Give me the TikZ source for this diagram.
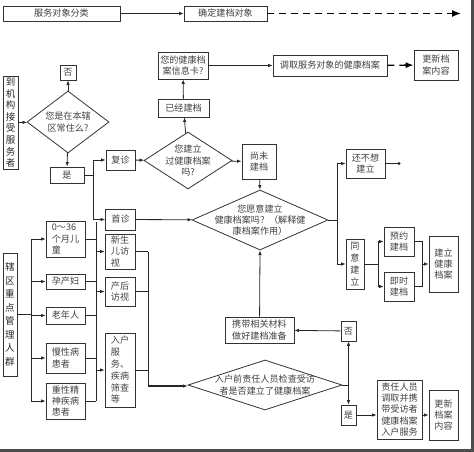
\documentclass[tikz,border=0pt]{standalone}
\usepackage{fontspec}
\setmainfont{Noto Sans CJK SC}
\usetikzlibrary{shapes.geometric,arrows.meta}
\begin{document}
\begin{tikzpicture}[x=1pt,y=-1pt,
  every node/.style={font=\fontsize{9.1}{11.4}\selectfont, text=black!75},
  bx/.style={draw=black!80, line width=0.8pt, inner sep=0pt, align=center},
  dia/.style={draw=black!80, line width=0.8pt, diamond, inner sep=0pt},
  lbl/.style={inner sep=0pt, align=center},
  ln/.style={draw=black!85, line width=0.8pt},
  ar/.style={ln, -{Latex[length=4.5pt,width=3.5pt]}},
  dar/.style={draw=black, line width=1.3pt, dash pattern=on 7pt off 5pt, -{Latex[length=9pt,width=7pt]}},
  vt/.style={font=\fontsize{9.5}{11.6}\selectfont, text=black!85},
]
\useasboundingbox (0,0) rectangle (474,452);
\draw[gray!60!black, line width=2.5pt] (472.5,0) -- (472.5,450.5) -- (0,450.5);

% top row
\node[bx, minimum width=117, minimum height=15] (cls) at (61.5,13.5) {服务对象分类};
\node[bx, minimum width=83, minimum height=15] (det) at (225.5,13.5) {确定建档对象};
\coordinate (topend) at (461,13.5);
\draw[ar] (cls) -- (det);
\draw[dar] (det) -- (topend);

% upper-left decision
\node[bx, vt, minimum width=15, minimum height=93] (dao) at (10.5,122.5) {到\\机\\构\\接\\受\\服\\务\\者};
\node[dia, minimum width=82, minimum height=62] (d1) at (68,122) {};
\node[lbl] (d1t) at (d1.center) {您是在本辖\\区常住么?};
\node[bx, minimum width=16, minimum height=15] (fou1) at (68,72.5) {否};
\node[bx, minimum width=34, minimum height=16] (shi1) at (67,175) {是};
\draw[ar] (dao) -- (d1);
\draw[ar] (d1) -- (fou1);
\draw[ar] (d1) -- (shi1);

\node[bx, minimum width=29, minimum height=20] (fuzhen) at (120.5,160) {复诊};
\node[bx, minimum width=30, minimum height=21] (shouzhen) at (120.5,219.5) {首诊};
\coordinate (j1) at (93,160);
\coordinate (j2) at (93,219.5);
\draw[ln] (shi1.east) -- (shi1.east -| j1);
\draw[ln] (j1) -- (j2);
\draw[ar] (j1) -- (fuzhen);
\draw[ar] (j2) -- (shouzhen);

% have record?
\node[dia, minimum width=88, minimum height=57] (d2) at (188,160.5) {};
\node[lbl] (d2t) at (d2.center) {您建立\\过健康档案\\吗?};
\node[bx, minimum width=51, minimum height=18] (yijing) at (183.5,108) {已经建档};
\node[bx, minimum width=50, minimum height=27] (xinxi) at (183,65.5) {您的健康档\\案信息卡?};
\node[bx, minimum width=114, minimum height=21] (diaoqu) at (330,65.5) {调取服务对象的健康档案};
\node[bx, minimum width=44, minimum height=30] (geng1) at (436,65) {更新档\\案内容};
\draw[ar] (fuzhen) -- (d2);
\draw[ar] (d2) -- (yijing);
\draw[ar] (yijing) -- (xinxi);
\draw[ar] (xinxi) -- (diaoqu);
\draw[draw=black, line width=1.3pt, dash pattern=on 7pt off 5pt, -{Latex[length=8pt,width=6pt]}] (diaoqu) -- (geng1);

\node[bx, minimum width=34, minimum height=35] (shangwei) at (259,161.5) {尚未\\建档};
\draw[ar] (d2) -- (shangwei);

% willing?
\node[dia, minimum width=136, minimum height=60] (d3) at (260,220) {};
\node[lbl] (d3t) at (d3.center) {您愿意建立\\健康档案吗？（解释健\\康档案作用）};
\draw[ar] (shangwei) -- (d3.north);
\draw[ar] (shouzhen) -- (d3);

\coordinate (j3) at (337,220);
\node[bx, minimum width=39, minimum height=29] (huanbu) at (365.5,163.5) {还不想\\建立};
\node[bx, minimum width=18, minimum height=50, font=\fontsize{9.1}{12}\selectfont] (tongyi) at (355,264) {同\\意\\建\\立};
\coordinate (j3a) at (337,163.5);
\coordinate (j3b) at (337,264);
\draw[ln] (d3.east) -- (j3);
\draw[ln] (j3a) -- (j3b);
\draw[ar] (j3a) -- (huanbu);
\draw[ar] (j3b) -- (tongyi);
\coordinate (dot) at (399,163.5);
\draw[ln] (huanbu) -- (dot);
\fill[black!85] (dot) circle (1.6);

\node[bx, minimum width=30, minimum height=29] (yuyue) at (399,241.5) {预约\\建档};
\node[bx, minimum width=30, minimum height=29] (jishi) at (399,286.5) {即时\\建档};
\node[bx, minimum width=29, minimum height=56] (jianli) at (443.5,264) {建立\\健康\\档案};
\coordinate (j4) at (378,264);
\coordinate (j4a) at (378,241.5);
\coordinate (j4b) at (378,286.5);
\draw[ln] (tongyi) -- (j4);
\draw[ln] (j4a) -- (j4b);
\draw[ar] (j4a) -- (yuyue);
\draw[ar] (j4b) -- (jishi);
\coordinate (j5a) at (422,241.5);
\coordinate (j5b) at (422,286.5);
\coordinate (j5) at (422,264);
\draw[ln] (yuyue) -- (j5a) -- (j5b) -- (jishi);
\draw[ar] (j5) -- (jianli);

% lower-left groups
\node[bx, vt, minimum width=14, minimum height=123, font=\fontsize{9.5}{13.5}\selectfont] (xiaqu) at (10,314.5) {辖\\区\\重\\点\\管\\理\\人\\群};
\node[bx, align=left, minimum width=39, minimum height=36] (c1) at (65.5,239) {0～36\\个月儿\\童};
\node[bx, minimum width=39, minimum height=15] (c2) at (65.5,281.5) {孕产妇};
\node[bx, minimum width=39, minimum height=17] (c3) at (65.5,315.5) {老年人};
\node[bx, align=left, minimum width=39, minimum height=30] (c4) at (65.5,358) {慢性病\\患者};
\node[bx, align=left, minimum width=39, minimum height=36] (c5) at (65.5,401) {重性精\\神疾病\\患者};
\coordinate (k0) at (31,314.5);
\coordinate (k1) at (31,239);
\coordinate (k5) at (31,401);
\draw[ln] (xiaqu.east) -- (k0);
\draw[ln] (k1) -- (k5);
\draw[ar] (k1) -- (c1);
\draw[ar] (31,281.5) -- (c2);
\draw[ar] (31,315.5) -- (c3);
\draw[ar] (31,358) -- (c4);
\draw[ar] (k5) -- (c5);

\node[bx, align=left, minimum width=30, minimum height=35] (xinsheng) at (120,251.5) {新生\\儿访\\视};
\node[bx, align=left, minimum width=30, minimum height=29] (chanhou) at (120,291.5) {产后\\访视};
\node[bx, align=left, minimum width=30, minimum height=74, font=\fontsize{9.1}{11.8}\selectfont] (ruhu) at (120,370) {入户\\服\\务、\\疾病\\筛查\\等};
\coordinate (m0) at (96,222);
\coordinate (m5) at (96,401);
\draw[ln] (m0) -- (m5);
\draw[ln] (c1.east) -- (c1.east -| m0);
\draw[ln, line width=1.2pt] (c2.east) -- (c2.east -| m0);
\draw[ln] (c3.east) -- (c3.east -| m0);
\draw[ln] (c4.east) -- (c4.east -| m0);
\draw[ln] (c5.east) -- (c5.east -| m0);
\draw[ar] (xinsheng.west -| m0) -- (xinsheng);
\draw[ar] (chanhou.west -| m0) -- (chanhou);
\draw[ar] (ruhu.west -| m0) -- (ruhu);

% home visit decision
\node[dia, minimum width=154, minimum height=50] (d4) at (265,385) {};
\node[lbl] (d4t) at (d4.center) {入户前责任人员检查受访\\者是否建立了健康档案};
\coordinate (n0) at (148,251.5);
\coordinate (n1) at (148,386);
\draw[ln] (xinsheng) -- (n0);
\draw[ln] (chanhou) -- (chanhou.east -| n0);
\draw[ln] (ruhu) -- (ruhu.east -| n0);
\draw[ln] (n0) -- (n1);
\draw[ar, line width=1.1pt] (n1) -- (n1 -| d4.west);

\node[bx, minimum width=15, minimum height=20] (fou2) at (348.5,331) {否};
\node[bx, minimum width=15, minimum height=20] (shi2) at (348.5,415) {是};
\node[bx, minimum width=69, minimum height=26] (xiedai) at (259.5,330) {携带相关材料\\做好建档准备};
\coordinate (p0) at (348.5,385);
\draw[ln] (d4.east) -- (p0);
\draw[ar] (p0) -- (fou2);
\draw[ar] (p0) -- (shi2);
\draw[ar] (fou2) -- (xiedai);
\draw[ar] (xiedai) -- (d3.south);

\node[bx, minimum width=45, minimum height=59] (zeren) at (399.5,409.5) {责任人员\\调取并携\\带受访者\\健康档案\\入户服务};
\node[bx, minimum width=29, minimum height=50] (geng2) at (443.5,415) {更新\\档案\\内容};
\draw[ar] (shi2) -- (shi2 -| zeren.west);
\draw[ar] (geng2.west -| zeren.east) -- (geng2);
\end{tikzpicture}
\end{document}
